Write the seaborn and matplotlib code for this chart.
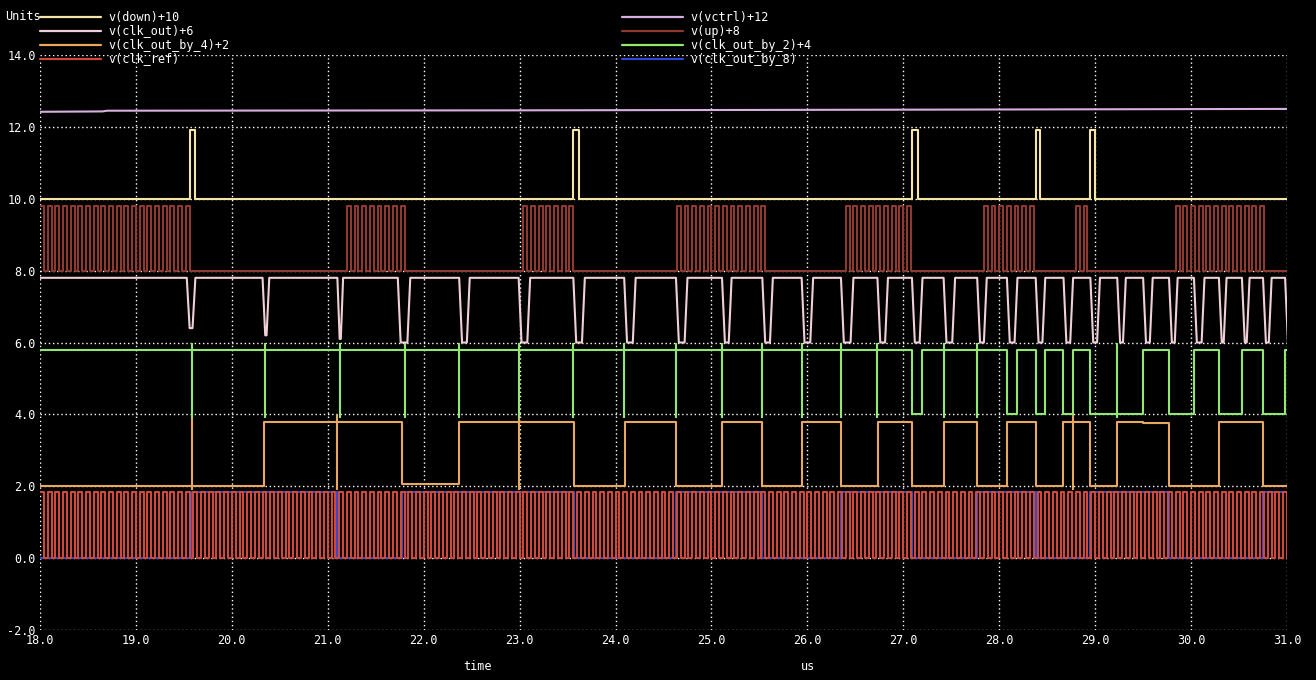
import numpy as np
import matplotlib
matplotlib.use('Agg')
import matplotlib.pyplot as plt
import seaborn as sns

sns.set_style('dark')
plt.rcParams['font.family'] = ['DejaVu Sans Mono']

# time axis (us)
t_start, t_end = 18.0, 31.0

# clk_ref: square clock, 0 .. 1.85 V
clk_ref_period = 0.08
clk_ref_high = 1.85

# up+8 : bursts of the reference clock
up_windows = [(18.0, 19.56), (21.13, 21.77), (23.0, 23.56), (24.63, 25.53),
              (26.39, 27.09), (27.77, 28.38), (28.77, 28.95), (29.83, 30.75)]
up_low, up_high = 8.0, 9.8

# down+10 : short pulses
down_pulses = [(19.56, 19.62), (23.56, 23.62), (27.09, 27.15), (28.38, 28.42), (28.95, 29.0)]
down_low, down_high = 10.0, 11.9

# vctrl+12
vctrl_t = [18.0, 18.65, 18.7, 23.0, 27.3, 31.0]
vctrl_v = [12.42, 12.43, 12.45, 12.46, 12.48, 12.5]

# clk_out+6 : VCO output, falling / rising times and the bottom level of each dip
clk_out_fall = [19.53, 20.32, 21.10, 21.73, 22.37, 22.99, 23.56, 24.09, 24.63, 25.11,
                25.53, 25.94, 26.35, 26.73, 27.09, 27.42, 27.77, 28.08, 28.38, 28.67,
                28.95, 29.23, 29.50, 29.77, 30.03, 30.29, 30.53, 30.75, 30.98]
clk_out_rise = [19.62, 20.39, 21.16, 21.86, 22.48, 23.11, 23.68, 24.21, 24.75, 25.21,
                25.64, 26.06, 26.48, 26.84, 27.20, 27.54, 27.87, 28.19, 28.48, 28.77,
                29.05, 29.32, 29.60, 29.86, 30.14, 30.37, 30.61, 30.84, 31.06]
clk_out_low = [6.4, 6.2, 6.1, 6.0] + [6.0] * 25
clk_out_high = 7.8

# clk_out_by_2+4
by2_t = [18.0, 27.09, 27.20, 28.08, 28.19, 28.38, 28.48, 28.67, 28.77, 28.95,
         29.50, 29.77, 30.03, 30.29, 30.53, 30.75, 30.98, 31.0]
by2_v = [5.8, 4.0, 5.8, 4.0, 5.8, 4.0, 5.8, 4.0, 5.8, 4.0,
         5.8, 4.0, 5.8, 4.0, 5.8, 4.0, 5.8, 5.8]
by2_glitch = [19.58, 20.35, 21.13, 21.8, 22.37, 22.99, 23.56, 24.09, 24.63, 25.11,
              25.53, 25.94, 26.35, 26.73, 27.42, 27.77, 29.23]

# clk_out_by_4+2
by4_t = [18.0, 20.33, 21.77, 22.37, 23.57, 24.10, 24.63, 25.11, 25.53, 25.94, 26.35,
         26.74, 27.09, 27.42, 27.77, 28.08, 28.38, 28.67, 28.95, 29.23, 29.5, 29.77,
         30.29, 30.75, 31.0]
by4_v = [2.0, 3.8, 2.05, 3.8, 2.0, 3.8, 2.0, 3.8, 2.0, 3.8, 2.0,
         3.8, 2.0, 3.8, 2.0, 3.8, 2.0, 3.8, 2.0, 3.8, 3.75, 2.0,
         3.8, 2.0, 2.0]
by4_glitch = [19.58, 21.1, 22.99, 28.77]

# clk_out_by_8
by8_t = [18.0, 19.58, 21.1, 21.77, 23.57, 24.63, 25.53, 26.35, 27.09, 27.77,
         28.38, 28.95, 29.77, 30.75, 31.0]
by8_v = [0.0, 1.85, 0.0, 1.85, 0.0, 1.85, 0.0, 1.85, 0.0, 1.85,
         0.0, 1.85, 0.0, 1.85, 1.85]

c_down = '#f5e6a8'
c_clkout = '#f0d0d8'
c_by4 = '#e8a860'
c_ref = '#d04a3c'
c_vctrl = '#d8b0e0'
c_up = '#8e3a30'
c_by2 = '#90e870'
c_by8 = '#3048d8'

fig = plt.figure(figsize=(13.16, 6.8), dpi=100, facecolor='black')
ax = fig.add_axes([40 / 1316, 50 / 680, 1247 / 1316, 575 / 680])
ax.set_facecolor('black')

# clock edges
edges = np.arange(t_start, t_end + clk_ref_period, clk_ref_period / 2)
ref_lvl = np.where(np.arange(len(edges)) % 2 == 0, clk_ref_high, 0.0)

# up signal = gated reference clock
up_lvl = np.full(len(edges), up_low)
for a, b in up_windows:
    m = (edges >= a) & (edges < b)
    up_lvl[m] = np.where(ref_lvl[m] > 0, up_high, up_low)

dt, dv = [t_start], [down_low]
for a, b in down_pulses:
    dt += [a, b]
    dv += [down_high, down_low]
dt.append(t_end); dv.append(down_low)

ct, cv = [t_start], [clk_out_high]
for f, r, lo in zip(clk_out_fall, clk_out_rise, clk_out_low):
    s = min(0.03, (r - f) / 2.5)
    ct += [f, f + s, r - s, r]
    cv += [clk_out_high, lo, lo, clk_out_high]

lw = 1.5
kw = dict(ax=ax, estimator=None, sort=False, lw=lw)
sns.lineplot(x=by8_t, y=by8_v, drawstyle='steps-post', color=c_by8, **kw)
sns.lineplot(x=edges, y=ref_lvl, drawstyle='steps-post', color=c_ref, **kw)
sns.lineplot(x=by4_t, y=by4_v, drawstyle='steps-post', color=c_by4, **kw)
ax.vlines(by4_glitch, 1.9, 4.0, color=c_by4, lw=lw)
sns.lineplot(x=by2_t, y=by2_v, drawstyle='steps-post', color=c_by2, **kw)
ax.vlines(by2_glitch, 3.9, 6.0, color=c_by2, lw=lw)
sns.lineplot(x=ct, y=cv, color=c_clkout, **kw)
sns.lineplot(x=edges, y=up_lvl, drawstyle='steps-post', color=c_up, **kw)
sns.lineplot(x=dt, y=dv, drawstyle='steps-post', color=c_down, **kw)
sns.lineplot(x=vctrl_t, y=vctrl_v, color=c_vctrl, **kw)

ax.set_xlim(t_start, t_end)
ax.set_ylim(-2, 14)
ax.set_xticks(np.arange(18, 32, 1.0))
ax.set_yticks(np.arange(-2, 15, 2.0))
ax.set_xticklabels([f'{v:.1f}' for v in np.arange(18, 32, 1.0)])
ax.set_yticklabels([f'{v:.1f}' for v in np.arange(-2, 15, 2.0)])
ax.tick_params(colors='white', labelsize=8.5, length=0, pad=3)
ax.grid(True, color='white', linestyle=(0, (1, 2)), lw=1)
for s in ax.spines.values():
    s.set_visible(False)
ax.set_xlabel('')
ax.set_ylabel('')

fig.text(477 / 1316, 1 - 666 / 680, 'time', color='white', fontsize=8.5, ha='center', va='center')
fig.text(808 / 1316, 1 - 666 / 680, 'us', color='white', fontsize=8.5, ha='center', va='center')
fig.text(5 / 1316, 1 - 17 / 680, 'Units', color='white', fontsize=8.5, va='center')

legend_left = [('v(down)+10', c_down), ('v(clk_out)+6', c_clkout),
               ('v(clk_out_by_4)+2', c_by4), ('v(clk_ref)', c_ref)]
legend_right = [('v(vctrl)+12', c_vctrl), ('v(up)+8', c_up),
                ('v(clk_out_by_2)+4', c_by2), ('v(clk_out_by_8)', c_by8)]
for x0, items in [(40, legend_left), (622, legend_right)]:
    for i, (name, c) in enumerate(items):
        y = 1 - (17 + 14 * i) / 680
        fig.add_artist(plt.Line2D([x0 / 1316, (x0 + 61) / 1316], [y, y], color=c, lw=1.6))
        fig.text((x0 + 68) / 1316, y, name, color='white', fontsize=8.5, va='center')

fig.savefig('out.png', dpi=100, facecolor='black')
